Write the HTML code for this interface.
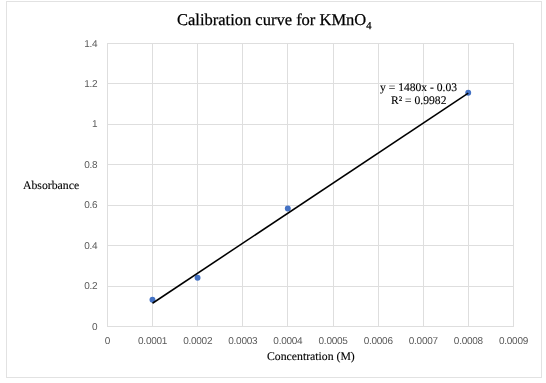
<!DOCTYPE html>
<html><head><meta charset="utf-8"><style>
html,body{margin:0;padding:0;background:#fff;}
body{width:546px;height:383px;overflow:hidden;position:relative;}
svg{position:absolute;left:0;top:0;will-change:transform;text-rendering:geometricPrecision;}
</style></head><body>
<svg width="546" height="383" viewBox="0 0 546 383">
<rect x="6.5" y="1.5" width="535" height="376" fill="#fff" stroke="#e2e2e2" stroke-width="1"/>
<g stroke="#dedede" stroke-width="1" fill="none">
<line x1="107.5" y1="43" x2="107.5" y2="327" />
<line x1="152.5" y1="43" x2="152.5" y2="327" />
<line x1="197.5" y1="43" x2="197.5" y2="327" />
<line x1="242.5" y1="43" x2="242.5" y2="327" />
<line x1="287.5" y1="43" x2="287.5" y2="327" />
<line x1="333.5" y1="43" x2="333.5" y2="327" />
<line x1="378.5" y1="43" x2="378.5" y2="327" />
<line x1="423.5" y1="43" x2="423.5" y2="327" />
<line x1="468.5" y1="43" x2="468.5" y2="327" />
<line x1="513.5" y1="43" x2="513.5" y2="327" />
<line x1="107" y1="326.5" x2="514" y2="326.5" />
<line x1="107" y1="286.5" x2="514" y2="286.5" />
<line x1="107" y1="245.5" x2="514" y2="245.5" />
<line x1="107" y1="205.5" x2="514" y2="205.5" />
<line x1="107" y1="164.5" x2="514" y2="164.5" />
<line x1="107" y1="124.5" x2="514" y2="124.5" />
<line x1="107" y1="83.5" x2="514" y2="83.5" />
<line x1="107" y1="43.5" x2="514" y2="43.5" />
</g>
<g font-family="'Liberation Sans', sans-serif" font-size="10" letter-spacing="-0.25" fill="#595959">
<text x="97.3" y="329.5" text-anchor="end">0</text>
<text x="97.3" y="289.1" text-anchor="end">0.2</text>
<text x="97.3" y="248.6" text-anchor="end">0.4</text>
<text x="97.3" y="208.2" text-anchor="end">0.6</text>
<text x="97.3" y="167.8" text-anchor="end">0.8</text>
<text x="97.3" y="127.4" text-anchor="end">1</text>
<text x="97.3" y="86.9" text-anchor="end">1.2</text>
<text x="97.3" y="46.5" text-anchor="end">1.4</text>
<text x="107.5" y="343.7" text-anchor="middle">0</text>
<text x="152.6" y="343.7" text-anchor="middle">0.0001</text>
<text x="197.7" y="343.7" text-anchor="middle">0.0002</text>
<text x="242.8" y="343.7" text-anchor="middle">0.0003</text>
<text x="287.9" y="343.7" text-anchor="middle">0.0004</text>
<text x="333.1" y="343.7" text-anchor="middle">0.0005</text>
<text x="378.2" y="343.7" text-anchor="middle">0.0006</text>
<text x="423.3" y="343.7" text-anchor="middle">0.0007</text>
<text x="468.4" y="343.7" text-anchor="middle">0.0008</text>
<text x="513.5" y="343.7" text-anchor="middle">0.0009</text>
</g>
<g font-family="'Liberation Serif', serif" fill="#000" stroke="#000" stroke-width="0.12">
<text x="177" y="24.8" font-size="16.5" stroke-width="0.25">Calibration curve for KMnO<tspan font-size="10.5" dy="3.9">4</tspan></text>
<text x="23" y="188.8" font-size="11.75">Absorbance</text>
<text x="267" y="360.0" font-size="11.75">Concentration (M)</text>
<text x="380" y="90.6" font-size="11.6">y = 1480x - 0.03</text>
<text x="391" y="103.6" font-size="11.6">R² = 0.9982</text>
</g>
<g fill="#4472c4">
<circle cx="152.46" cy="299.72" r="2.95" />
<circle cx="197.57" cy="277.69" r="2.95" />
<circle cx="287.79" cy="208.56" r="2.95" />
<circle cx="468.24" cy="92.73" r="2.95" />
</g>
<line x1="152.51" y1="303.25" x2="468.29" y2="93.13" stroke="#000" stroke-width="1.55" />
</svg>
</body></html>
